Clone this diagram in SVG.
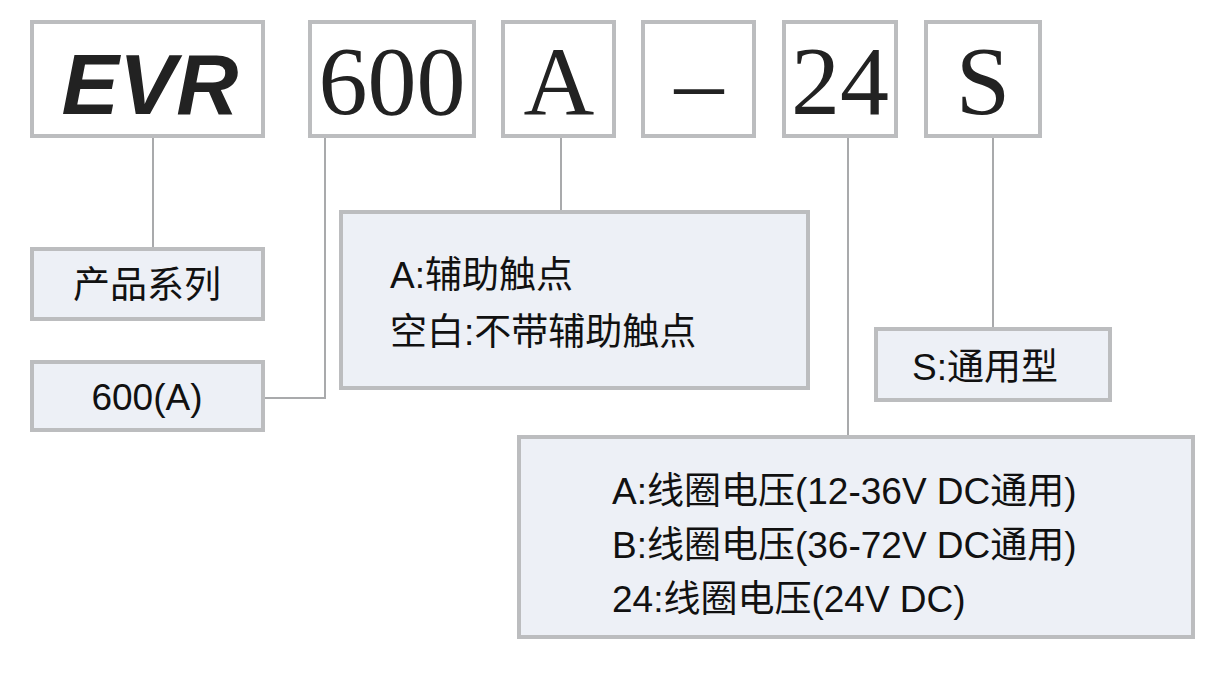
<svg xmlns="http://www.w3.org/2000/svg" width="1228" height="699" viewBox="0 0 1228 699">
<style>
.b{fill:#fff;stroke:#bcbdbf;stroke-width:4}
.f{fill:#edf0f6;stroke:#bcbdbf;stroke-width:4}
.c{fill:none;stroke:#a9aaac;stroke-width:2}
.s{font-family:"Liberation Serif",serif;font-size:98px;fill:#222;text-anchor:middle}
.t{font-family:"Liberation Sans","Noto Sans CJK SC",sans-serif;font-size:37px;fill:#111}
</style>
<rect width="1228" height="699" fill="#fff"/>
<g id="connectors">
<path class="c" d="M153 136V249"/>
<path class="c" d="M325 136V398H263"/>
<path class="c" d="M561 136V212"/>
<path class="c" d="M848 136V437"/>
<path class="c" d="M993 136V329"/>
</g>
<g id="evr"><rect class="b" x="32" y="22" width="231" height="114"/><text x="150" y="114" text-anchor="middle" font-family="Liberation Sans,sans-serif" font-weight="bold" font-style="italic" font-size="86" fill="#222">EVR</text></g>
<g id="n600"><rect class="b" x="310" y="22" width="164" height="114"/><text class="s" x="392" y="114">600</text></g>
<g id="nA"><rect class="b" x="503" y="22" width="111" height="114"/><text class="s" x="559" y="114">A</text></g>
<g id="ndash"><rect class="b" x="643" y="22" width="111" height="114"/><text class="s" x="699" y="114">–</text></g>
<g id="n24"><rect class="b" x="784" y="22" width="112" height="114"/><text class="s" x="840" y="114">24</text></g>
<g id="nS"><rect class="b" x="926" y="22" width="114" height="114"/><text class="s" x="983" y="114">S</text></g>
<g id="series"><rect class="f" x="32" y="249" width="231" height="70"/><text class="t" x="147" y="298" text-anchor="middle">产品系列</text></g>
<g id="model"><rect class="f" x="32" y="362" width="231" height="68"/><text class="t" x="147" y="410" text-anchor="middle">600(A)</text></g>
<g id="aux"><rect class="f" x="341" y="212" width="467" height="176"/><text class="t" x="390" y="288">A:辅助触点</text><text class="t" x="390" y="345">空白:不带辅助触点</text></g>
<g id="type"><rect class="f" x="876" y="329" width="234" height="71"/><text class="t" x="912" y="380">S:通用型</text></g>
<g id="volt"><rect class="f" x="519" y="437" width="674" height="200"/><text class="t" x="612" y="504">A:线圈电压(12-36V DC通用)</text><text class="t" x="612" y="558">B:线圈电压(36-72V DC通用)</text><text class="t" x="612" y="612">24:线圈电压(24V DC)</text></g>
</svg>
